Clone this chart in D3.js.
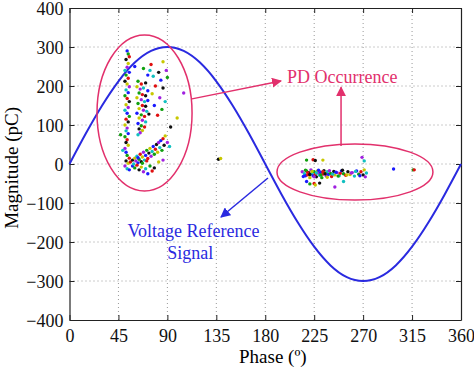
<!DOCTYPE html>
<html>
<head>
<meta charset="utf-8">
<script src="https://cdn.jsdelivr.net/npm/d3@7"></script>
<style>
  body { margin: 0; background: #fff; }
  text { font-family: 'Liberation Serif', 'Times New Roman', serif; }
</style>
</head>
<body>
<script>
var width = 474;
var height = 373;
var margin = {top: 8, right: 13, bottom: 53, left: 69.5};

// Tick labels.
var xTicks = [0, 45, 90, 135, 180, 225, 270, 315, 360];
var yTicks = [-400, -300, -200, -100, 0, 100, 200, 300, 400];

// Voltage reference signal, read every 15 degrees.
var refPhase = [0, 15, 30, 45, 60, 75, 90, 105, 120, 135, 150, 165, 180,
  195, 210, 225, 240, 255, 270, 285, 300, 315, 330, 345, 360];
var refMag = [0, 78, 150, 212, 260, 290, 300, 290, 260, 212, 150, 78, 0,
  -78, -150, -212, -260, -290, -300, -290, -260, -212, -150, -78, 0];

// PD pulses (phase in degrees, magnitude in pC).
var pdPhase = [
  // positive half cycle, first column
  53, 54, 55, 52, 54, 53, 51, 55, 52, 54, 51, 53, 55, 52, 54, 51, 53, 55, 52, 54, 51,
  53, 55, 52, 54, 51, 53, 52, 54, 51, 53, 52, 54, 51, 49, 52, 53, 55, 52, 54, 51, 53, 55,
  // second column
  63, 66, 70, 62, 65, 68, 72, 64, 67, 70, 62, 66, 69, 72, 63, 67, 70, 64, 68, 71, 62, 66,
  69, 73, 64, 67, 70, 63, 66, 69, 64, 67, 65, 63,
  // sparse upper points
  60, 68, 75, 82, 86, 89, 77, 84, 90, 79, 86, 76, 83, 88, 78, 85, 81, 93, 99, 105, 74, 72,
  // lower band
  47, 56, 58, 60, 61, 62, 63, 64, 65, 66, 67, 68, 69, 70, 71, 72, 73, 74, 75, 76, 77, 78,
  79, 80, 81, 82, 83, 84, 85, 86, 87, 88, 90, 92, 58, 60, 62, 64, 66, 68, 70, 72, 74, 76,
  78, 82, 86, 59, 63, 67, 71, 137, 139,
  // negative half cycle
  214, 216, 217, 218, 219, 220, 221, 222, 223, 224, 225, 226, 227, 228, 229, 230, 231,
  232, 233, 234, 235, 236, 237, 238, 240, 241, 243, 244, 246, 248, 250, 252, 254, 256,
  258, 260, 262, 264, 266, 268, 270, 271, 272, 273,
  215, 217, 219, 221, 223, 225, 227, 229, 231, 233, 235, 237, 239, 242, 245, 247, 249,
  251, 255, 259, 263, 267,
  218, 224, 226, 233, 269, 271,
  218, 221, 225, 230, 226, 244, 252,
  298, 316, 317
];
var pdMag = [
  290, 282, 275, 268, 258, 248, 240, 235, 228, 220, 212, 205, 198, 190, 183, 175, 168, 160, 152, 145, 138,
  130, 122, 115, 108, 100, 92, 85, 78, 70, 62, 55, 48, 40, 35, 30, 22, 15, 8, 2, -5, -12, -15,
  212, 205, 208, 198, 192, 195, 188, 182, 178, 175, 170, 165, 160, 163, 155, 150, 148, 142, 138, 135, 130, 126,
  122, 128, 118, 112, 108, 104, 98, 95, 90, 86, 80, 75,
  250, 245, 255, 235, 262, 240, 225, 215, 222, 200, 195, 180, 170, 160, 150, 140, 125, 95, 118, 182, 240, 228,
  75, 5, 10, 15, 8, 20, 3, 12, 25, 6, 18, 30, 10, 22, 35, 14, 28, 40, 20, 32, 45, 25,
  38, 50, 30, 55, 42, 60, 35, 65, 48, 72, 55, 45, -5, -10, -3, -15, -8, -20, -12, -25, -5, -18,
  -10, 5, 10, 0, 16, 2, 8, 12, 14,
  -20, -25, -30, -18, -28, -22, -35, -15, -25, -30, -20, -27, -33, -18, -24, -29, -21,
  -35, -26, -17, -23, -30, -20, -27, -24, -32, -19, -28, -22, -30, -18, -25, -29, -20,
  -27, -22, -31, -18, -26, -20, -28, -15, -33, -23,
  -32, -16, -22, -27, -19, -33, -23, -16, -28, -20, -25, -34, -17, -26, -21, -31, -24,
  -16, -28, -23, -19, -30,
  10, 11, 9, 10, 17, 8,
  -45, -51, -50, -49, -54, -59, -45,
  -13, -15, -15
];

var pdColors = ['#1a1aff', '#10a010', '#e01010', '#101010', '#c8c800', '#a020e0', '#10c0c0'];
var pink = '#e2306c';
var blue = '#2a2ae0';

var innerW = width - margin.left - margin.right;
var innerH = height - margin.top - margin.bottom;

var svg = d3.select('body')
  .append('svg')
  .attr('width', width)
  .attr('height', height);

var x = d3.scaleLinear().domain([0, 360]).range([margin.left, margin.left + innerW]);
var y = d3.scaleLinear().domain([-400, 400]).range([margin.top + innerH, margin.top]);
var color = d3.scaleOrdinal(pdColors);

// Grid.
svg.append('g')
  .selectAll('line')
  .data(xTicks.slice(1, -1))
  .enter().append('line')
  .attr('x1', function(d) { return x(d); })
  .attr('x2', function(d) { return x(d); })
  .attr('y1', y(-400))
  .attr('y2', y(400))
  .attr('stroke', '#999')
  .attr('stroke-dasharray', '1,3');
svg.append('g')
  .selectAll('line')
  .data(yTicks.slice(1, -1))
  .enter().append('line')
  .attr('x1', x(0))
  .attr('x2', x(360))
  .attr('y1', function(d) { return y(d); })
  .attr('y2', function(d) { return y(d); })
  .attr('stroke', '#999')
  .attr('stroke-dasharray', '1,3');

// Axes.
function fmt(d) { return d < 0 ? '\u2212' + Math.abs(d) : '' + d; }

var xAxis = svg.append('g')
  .attr('transform', 'translate(0,' + y(-400) + ')')
  .call(d3.axisBottom(x).tickValues(xTicks).tickSizeInner(-5).tickSizeOuter(0).tickPadding(8).tickFormat(fmt));
var yAxis = svg.append('g')
  .attr('transform', 'translate(' + x(0) + ',0)')
  .call(d3.axisLeft(y).tickValues(yTicks).tickSizeInner(-5).tickSizeOuter(0).tickPadding(6).tickFormat(fmt));
svg.append('g')
  .attr('transform', 'translate(0,' + y(400) + ')')
  .call(d3.axisTop(x).tickValues(xTicks).tickSizeInner(-5).tickSizeOuter(0).tickFormat(''));
svg.append('g')
  .attr('transform', 'translate(' + x(360) + ',0)')
  .call(d3.axisRight(y).tickValues(yTicks).tickSizeInner(-5).tickSizeOuter(0).tickFormat(''));

svg.selectAll('.domain').attr('stroke', '#222').attr('stroke-width', 1.2);
svg.selectAll('.tick line').attr('stroke', '#222');
svg.selectAll('.tick text')
  .attr('font-size', 18)
  .attr('font-family', "'Liberation Serif', serif")
  .attr('fill', '#111');
yAxis.selectAll('.tick text').attr('dy', '0.35em');
xAxis.selectAll('.tick text').attr('dy', '0.75em');

// Axis labels.
svg.append('text')
  .attr('x', x(187))
  .attr('y', 363)
  .attr('text-anchor', 'middle')
  .attr('font-size', 19)
  .text('Phase (\u00ba)');
svg.append('text')
  .attr('transform', 'translate(18,' + y(-10) + ') rotate(-90)')
  .attr('text-anchor', 'middle')
  .attr('font-size', 19)
  .text('Magnitude (pC)');

// Reference signal.
var refData = refPhase.map(function(d, i) { return {p: d, m: refMag[i]}; });
svg.append('path')
  .datum(refData)
  .attr('fill', 'none')
  .attr('stroke', blue)
  .attr('stroke-width', 2)
  .attr('d', d3.line()
    .x(function(d) { return x(d.p); })
    .y(function(d) { return y(d.m); })
    .curve(d3.curveNatural));

// PD points.
var pdData = pdPhase.map(function(d, i) { return {p: d, m: pdMag[i], c: i % pdColors.length}; });
svg.append('g')
  .selectAll('circle')
  .data(pdData)
  .enter().append('circle')
  .attr('cx', function(d) { return x(d.p); })
  .attr('cy', function(d) { return y(d.m); })
  .attr('r', 1.7)
  .attr('fill', function(d) { return color(d.c); });

// Annotations.
var defs = svg.append('defs');
[['pinkHead', pink], ['blueHead', blue]].forEach(function(a) {
  defs.append('marker')
    .attr('id', a[0])
    .attr('viewBox', '0 0 10 10')
    .attr('refX', 9)
    .attr('refY', 5)
    .attr('markerWidth', 10)
    .attr('markerHeight', 10)
    .attr('markerUnits', 'userSpaceOnUse')
    .attr('orient', 'auto')
    .append('path')
    .attr('d', 'M0,0L10,5L0,10z')
    .attr('fill', a[1]);
});

var ellipses = [
  {p: 69, m: 131, rp: 43.7, rm: 200},
  {p: 262.5, m: -20.5, rp: 71.7, rm: 72}
];
svg.append('g')
  .selectAll('ellipse')
  .data(ellipses)
  .enter().append('ellipse')
  .attr('cx', function(d) { return x(d.p); })
  .attr('cy', function(d) { return y(d.m); })
  .attr('rx', function(d) { return x(d.rp) - x(0); })
  .attr('ry', function(d) { return y(0) - y(d.rm); })
  .attr('fill', 'none')
  .attr('stroke', pink)
  .attr('stroke-width', 1.5);

var arrows = [
  {p1: 112.6, m1: 167, p2: 194.5, m2: 213, c: pink, h: 'pinkHead'},
  {p1: 249.7, m1: 46, p2: 249.7, m2: 197, c: pink, h: 'pinkHead'},
  {p1: 182.5, m1: -36, p2: 139.3, m2: -136, c: blue, h: 'blueHead'}
];
svg.append('g')
  .selectAll('line')
  .data(arrows)
  .enter().append('line')
  .attr('x1', function(d) { return x(d.p1); })
  .attr('y1', function(d) { return y(d.m1); })
  .attr('x2', function(d) { return x(d.p2); })
  .attr('y2', function(d) { return y(d.m2); })
  .attr('stroke', function(d) { return d.c; })
  .attr('stroke-width', 1.5)
  .attr('marker-end', function(d) { return 'url(#' + d.h + ')'; });

svg.append('text')
  .attr('x', x(200))
  .attr('y', y(208))
  .attr('font-size', 18)
  .attr('fill', pink)
  .text('PD Occurrence');
svg.append('text')
  .attr('x', x(114))
  .attr('y', y(-187))
  .attr('text-anchor', 'middle')
  .attr('font-size', 18)
  .attr('fill', blue)
  .text('Voltage Reference');
svg.append('text')
  .attr('x', x(111))
  .attr('y', y(-244))
  .attr('text-anchor', 'middle')
  .attr('font-size', 18)
  .attr('fill', blue)
  .text('Signal');
</script>
</body>
</html>
